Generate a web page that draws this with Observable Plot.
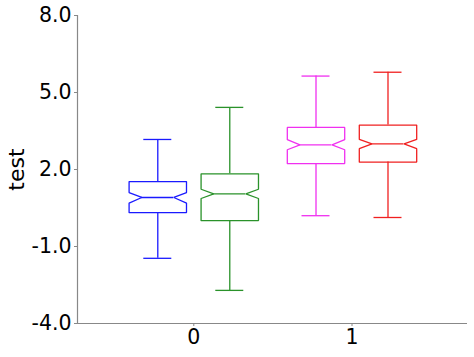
<!DOCTYPE html>
<html><head><meta charset="utf-8">
<script src="https://cdn.jsdelivr.net/npm/d3@7"></script>
<script src="https://cdn.jsdelivr.net/npm/@observablehq/plot@0.6"></script>
<style>
body{margin:0;background:#fff} svg{display:block}
#chart svg g[aria-label="y-axis tick label"] text,
#chart svg g[aria-label="x-axis tick label"] text { font-size: 20.5px; }
#chart svg g.ylabel text { font-size: 22px; }
</style>
</head><body><div id="chart"></div>
<script>
// Data
const categories = [0, 1];
const xTicks = [0, 1];
const yTicks = [-4, -1, 2, 5, 8];
const xDomain = [-0.735, 1.73];
const yDomain = [-4, 8];
const boxCategory = [0, 0, 1, 1];
const boxHue = [0, 1, 0, 1];
const boxColor = ["#1a1aff", "#2a922a", "#f030f0", "#f02020"];
const whiskerHigh = [3.17, 4.42, 5.64, 5.79];
const q3 = [1.53, 1.83, 3.64, 3.73];
const notchHigh = [1.10, 1.23, 3.16, 3.17];
const median = [0.91, 1.05, 2.96, 3.00];
const notchLow = [0.69, 0.87, 2.77, 2.81];
const q1 = [0.32, 0.01, 2.23, 2.29];
const whiskerLow = [-1.46, -2.71, 0.20, 0.13];

// geometry (in x data units)
const hueOffset = [-0.2275, 0.2275];
const halfW = 0.1814, notchDepth = 0.08, capHalf = 0.0885;

const boxes = q3.map((_, i) => ({
  i, pos: boxCategory[i] + hueOffset[boxHue[i]], color: boxColor[i],
  hi: whiskerHigh[i], q3: q3[i], nh: notchHigh[i], med: median[i], nl: notchLow[i], q1: q1[i], lo: whiskerLow[i]
}));
const outline = boxes.flatMap(b => {
  const L = b.pos - halfW, R = b.pos + halfW;
  return [
    [L, b.q1], [R, b.q1], [R, b.nl], [R - notchDepth, b.med], [R, b.nh], [R, b.q3],
    [L, b.q3], [L, b.nh], [L + notchDepth, b.med], [L, b.nl], [L, b.q1]
  ].map(([x, y]) => ({x, y, box: b.i, color: b.color}));
});

const font = "DejaVu Sans, sans-serif";
const sw = 1.3;
const chart = Plot.plot({
  width: 474, height: 357,
  marginLeft: 77, marginRight: 7, marginTop: 15, marginBottom: 34,
  style: {fontFamily: font, fontSize: "20px", background: "#fff", color: "#000"},
  x: {domain: xDomain},
  y: {domain: yDomain},
  color: {type: "identity"},
  marks: [
    Plot.ruleX([xDomain[0]], {y1: yDomain[0], y2: yDomain[1], stroke: "#888", strokeWidth: 1.2}),
    Plot.ruleY([yDomain[0]], {x1: xDomain[0], x2: xDomain[1], stroke: "#888", strokeWidth: 1.2}),
    Plot.axisY(yTicks, {tickSize: 3, tickPadding: 3, stroke: "#888", fill: "#000", tickFormat: d => d.toFixed(1), label: null, fontSize: 20}),
    Plot.axisX(xTicks, {tickSize: 3, tickPadding: 3, stroke: "#888", fill: "#000", tickFormat: d => String(d), label: null, fontSize: 20}),
    Plot.text(["test"], {frameAnchor: "left", textAnchor: "middle", lineAnchor: "middle", rotate: -90, dx: -61, fontSize: 22, fill: "#000", className: "ylabel"}),
    Plot.ruleX(boxes, {x: "pos", y1: "q3", y2: "hi", stroke: "color", strokeWidth: sw}),
    Plot.ruleX(boxes, {x: "pos", y1: "q1", y2: "lo", stroke: "color", strokeWidth: sw}),
    Plot.ruleY(boxes, {y: "hi", x1: d => d.pos - capHalf, x2: d => d.pos + capHalf, stroke: "color", strokeWidth: sw}),
    Plot.ruleY(boxes, {y: "lo", x1: d => d.pos - capHalf, x2: d => d.pos + capHalf, stroke: "color", strokeWidth: sw}),
    Plot.line(outline, {x: "x", y: "y", z: "box", stroke: "color", strokeWidth: sw, strokeLinejoin: "miter"}),
    Plot.ruleY(boxes, {y: "med", x1: d => d.pos - halfW + notchDepth, x2: d => d.pos + halfW - notchDepth, stroke: "color", strokeWidth: sw})
  ]
});
document.getElementById("chart").appendChild(chart);
</script>
</body></html>
